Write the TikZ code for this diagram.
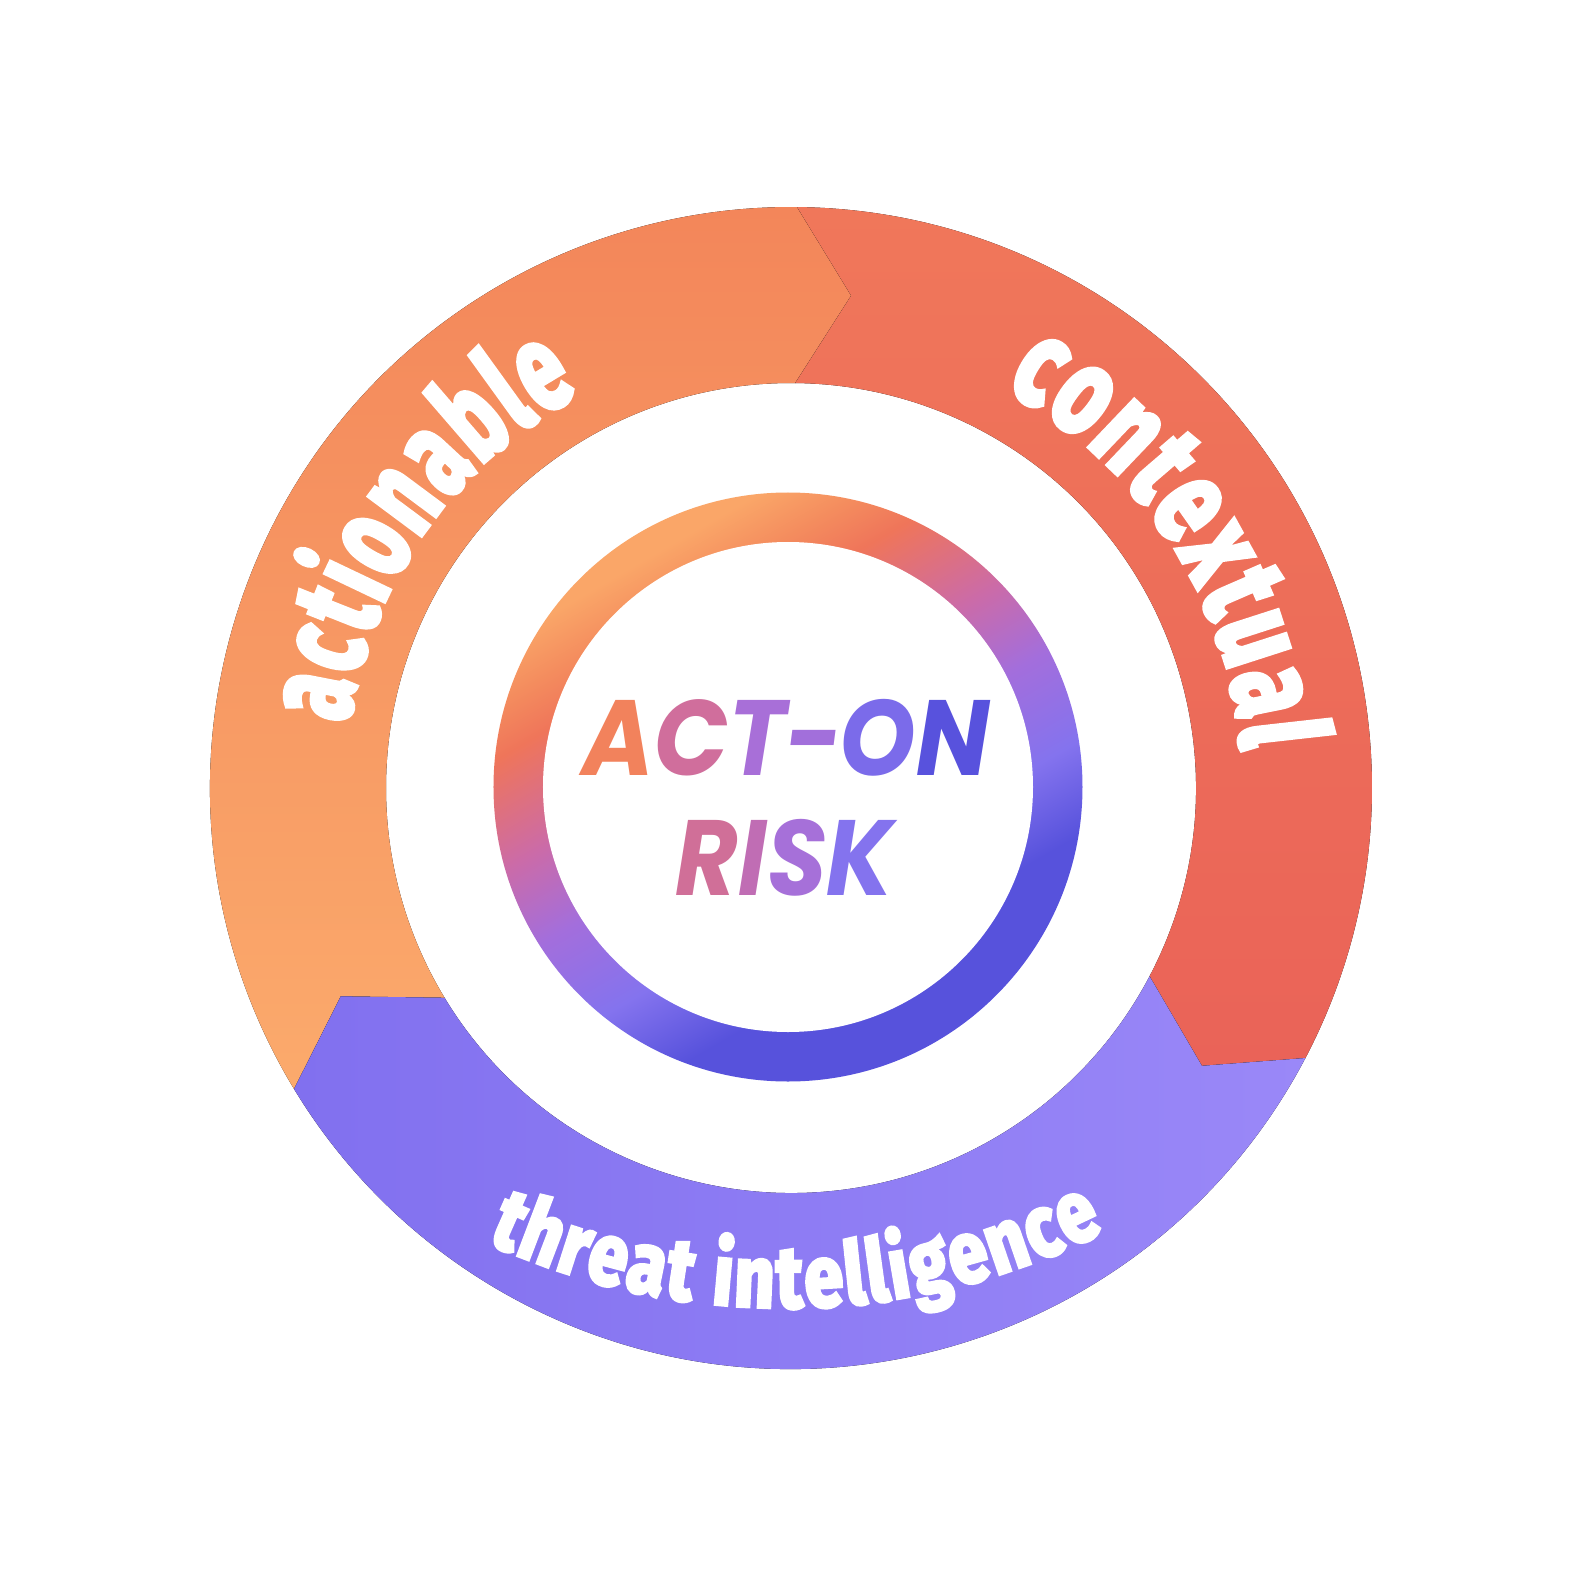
\documentclass[tikz,border=0pt]{standalone}
\usepackage{fontspec}
\usepackage{graphicx}
\usetikzlibrary{calc}
\newfontfamily\popfont{Poppins}
\IfFontExistsTF{Fira Sans Heavy}{\newfontfamily\ringfont[FakeBold=1.5]{Fira Sans Heavy}}{%
  \IfFontExistsTF{Fira Sans ExtraBold}{\newfontfamily\ringfont[FakeBold=3]{Fira Sans ExtraBold}}{%
    \IfFontExistsTF{Fira Sans Bold}{\newfontfamily\ringfont[FakeBold=5.5]{Fira Sans Bold}}{%
      \newfontfamily\ringfont[FakeBold=2]{DejaVu Sans Condensed Bold}}}}
\newcommand\ringtxt{\ringfont\fontsize{124}{124}\selectfont}
\newcommand\ringtxtsmall{\ringfont\fontsize{88}{88}\selectfont}
\newlength\chL
\newcommand\measurech[2]{\begin{pgfinterruptpicture}\settowidth\chL{#1#2}\global\chL=\chL\end{pgfinterruptpicture}}
% #1 name prefix, #2 arc centre, #3 centre angle, #4 baseline radius,
% #5 1 = clockwise (tops outward) / -1 = counter-clockwise (tops inward),
% #6 font, #7 total span (deg), #8 tracking (pt), #9 letters
\newcommand\arcword[9]{%
  \gdef\arcsum{0}\gdef\arcn{0}%
  \foreach \ch in {#9}{%
    \measurech{#6}{\ch}%
    \pgfmathsetmacro\tmpa{\arcsum+\the\chL}\global\let\arcsum\tmpa
    \pgfmathsetmacro\tmpb{\arcn+1}\global\let\arcn\tmpb
  }%
  \pgfmathsetmacro\arcsc{(#7*pi/180*#4-\arcn*#8)/max(\arcsum,1)}\global\let\arcsg\arcsc
  \pgfmathsetmacro\tmpc{#3+(#5)*#7/2}\global\let\arccur\tmpc
  \foreach \ch [count=\ai] in {#9}{%
    \measurech{#6}{\ch}%
    \pgfmathsetmacro\aadv{(\arcsg*\the\chL+#8)/#4*180/pi}%
    \pgfmathsetmacro\amid{\arccur-(#5)*\aadv/2}%
    \pgfmathsetmacro\arot{\amid-(#5)*90}%
    \begin{scope}[shift={($(#2)+(\amid:#4)$)}, rotate=\arot, xscale=\arcsg]
      \node[transform shape, anchor=base, inner sep=0pt, text=white] (#1\ai) at (0,0) {#6\ch};
    \end{scope}
    \pgfmathsetmacro\tmpd{\arccur-(#5)*\aadv}\global\let\arccur\tmpd
  }%
}
\definecolor{gB}{HTML}{5752DC}
\definecolor{gLP}{HTML}{8473EE}
\definecolor{gP}{HTML}{A36EDC}
\definecolor{gPk}{HTML}{CB6BA8}
\definecolor{gR}{HTML}{EF755A}
\definecolor{gRO}{HTML}{F48C5E}
\definecolor{gO}{HTML}{FAA668}
\definecolor{oTop}{HTML}{F3865A}
\definecolor{oBot}{HTML}{FBAA6C}
\definecolor{rTop}{HTML}{F0775A}
\definecolor{rBot}{HTML}{EA6358}
\definecolor{pL}{HTML}{8170EF}
\definecolor{pR}{HTML}{9A88F8}
\definecolor{tA}{HTML}{F2825C}
\definecolor{tC}{HTML}{D06E9C}
\definecolor{tT}{HTML}{A86FD8}
\definecolor{tD}{HTML}{A26FDB}
\definecolor{tO}{HTML}{7B6BEA}
\definecolor{tN}{HTML}{5852DD}
\definecolor{tR}{HTML}{D06F98}
\definecolor{tI}{HTML}{C06DB4}
\definecolor{tS}{HTML}{A670D9}
\definecolor{tK}{HTML}{8473EE}
\pgfdeclareverticalshading{ringgrad}{100bp}{color(0bp)=(gB); color(34bp)=(gB); color(41bp)=(gLP); color(49bp)=(gP); color(56bp)=(gPk); color(64.5bp)=(gR); color(68.5bp)=(gRO); color(73bp)=(gO); color(100bp)=(gO)}
\tikzset{
  orangeseg/.style={top color=oTop, bottom color=oBot},
  redseg/.style={top color=rTop, bottom color=rBot},
  purpleseg/.style={left color=pL, right color=pR},
  centertxt/.style={font=\popfont\bfseries\itshape\fontsize{107}{107}\selectfont, anchor=base, inner sep=0pt},
}
\begin{document}
\begin{tikzpicture}[x=1pt,y=1pt]
\useasboundingbox[fill=white] (-791,-789) rectangle (788,788);
\coordinate (O) at (0,0);
\coordinate (G) at (-3,1);
\coordinate (B) at (-6.5,188);
% orange segment
\fill[orangeseg] (211.2:581) arc[start angle=211.2, end angle=89.4, radius=581]
  -- ($(89.4:493)+(-0.6:55)$) -- (89.4:405) arc[start angle=89.4, end angle=211.2, radius=405]
  -- ($(211.2:493)+(121.2:55)$) -- cycle;
% red segment
\fill[redseg] (89.4:581) arc[start angle=89.4, end angle=-27.7, radius=581]
  -- ($(-27.7:493)+(-117.7:55)$) -- (-27.7:405) arc[start angle=-27.7, end angle=89.4, radius=405]
  -- ($(89.4:493)+(-0.6:55)$) -- cycle;
% purple segment
\fill[purpleseg] (-27.7:581) arc[start angle=-27.7, end angle=-148.8, radius=581]
  -- ($(211.2:493)+(121.2:55)$) -- (-148.8:405) arc[start angle=-148.8, end angle=-27.7, radius=405]
  -- ($(-27.7:493)+(-117.7:55)$) -- cycle;
% ring texts
\arcword{ac}{O}{145}{447}{1}{\ringtxt}{54}{3}{a,c,t,i,o,n,a,b,l,e}
\arcword{co}{O}{33.3}{452}{1}{\ringtxt}{57.5}{3}{c,o,n,t,e,x,t,u,a,l}
\arcword{ti}{B}{-89}{708}{-1}{\ringtxtsmall}{52}{2.5}{t,h,r,e,a,t,~,i,n,t,e,l,l,i,g,e,n,c,e}
% inner gradient ring
\shade[shading=ringgrad, shading angle=30] (G) circle[radius=294.5];
\fill[white] (G) circle[radius=245];
% centre text
\node[centertxt] (act) at (-5,12.6) {\scalebox{0.91}[1]{\textcolor{tA}{A}\textcolor{tC}{C}\textcolor{tT}{T}\textcolor{tD}{\scalebox{0.8}[1]{–}}\textcolor{tO}{O}\textcolor{tN}{N}}};
\node[centertxt] (risk) at (-6,-107.2) {\scalebox{0.9}[1]{\textcolor{tR}{R}\textcolor{tI}{I}\textcolor{tS}{S}\textcolor{tK}{K}}};
\end{tikzpicture}
\end{document}
